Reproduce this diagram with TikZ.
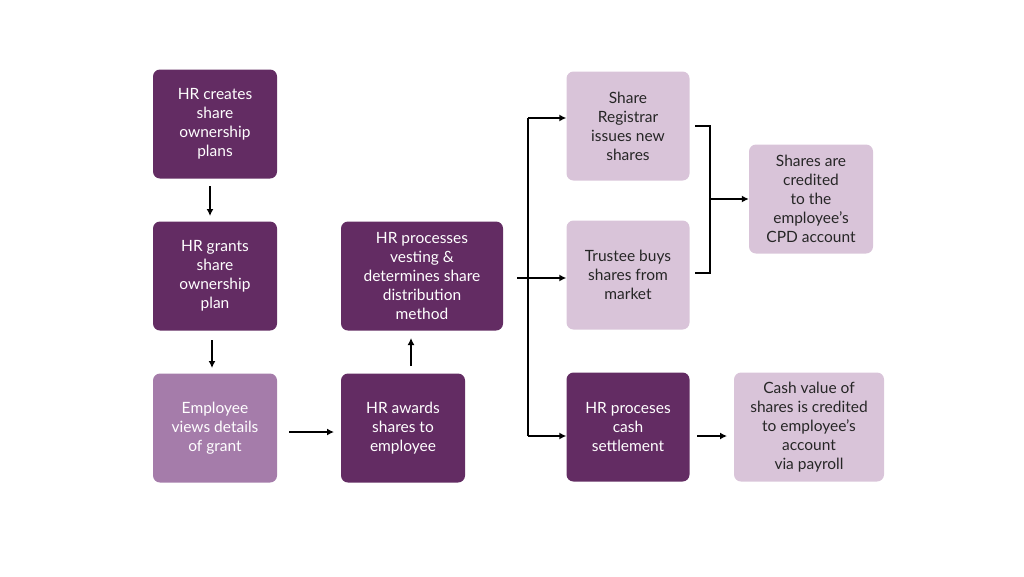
\documentclass[tikz,border=0pt]{standalone}
\usepackage{fontspec}
\setmainfont{Lato}
\usetikzlibrary{arrows.meta}
\definecolor{dk}{HTML}{632C63}
\definecolor{md}{HTML}{A57CAA}
\definecolor{pl}{HTML}{D9C4D9}
\begin{document}
\begin{tikzpicture}[x=1pt,y=-1pt,
  box/.style={rounded corners=7pt,minimum width=124pt,minimum height=109pt,align=center,font=\fontsize{15.5}{19}\selectfont,inner sep=2pt},
  dk/.style={box,fill=dk,text=white},
  md/.style={box,fill=md,text=white},
  pl/.style={box,fill=pl,text=black!85},
  ar/.style={line width=1.8pt,-{Latex[length=7pt,width=7pt]}},
  ln/.style={line width=1.8pt}]
\useasboundingbox (0,0) rectangle (1024,576);
\node[dk] (A) at (215,124) {HR creates\\share\\ownership\\plans};
\node[dk] (B) at (215,276) {HR grants\\share\\ownership\\plan};
\node[md] (C) at (215,428) {Employee\\views details\\of grant};
\node[dk] (D) at (403,428) {HR awards\\shares to\\employee};
\node[dk,minimum width=162pt] (E) at (422,276) {HR processes\\vesting \&\\determines share\\distribution\\method};
\node[pl,minimum width=123pt] (F) at (628,126) {Share\\Registrar\\issues new\\shares};
\node[pl,minimum width=123pt] (G) at (628,275) {Trustee buys\\shares from\\market};
\node[dk,minimum width=123pt] (H) at (628,427) {HR proceses\\cash\\settlement};
\node[pl] (I) at (811,199) {Shares are\\credited\\to the\\employee’s\\CPD account};
\node[pl,minimum width=150pt] (J) at (809,427) {Cash value of\\shares is credited\\to employee’s\\account\\via payroll};
\coordinate (a1) at (210,186); \coordinate (a2) at (210,216);
\draw[ar] (a1) -- (a2);
\coordinate (b1) at (212,340); \coordinate (b2) at (212,368);
\draw[ar] (b1) -- (b2);
\coordinate (c1) at (289,432); \coordinate (c2) at (334,432);
\draw[ar] (c1) -- (c2);
\coordinate (d1) at (411,366); \coordinate (d2) at (411,338);
\draw[ar] (d1) -- (d2);
\coordinate (e0) at (517,278); \coordinate (e1) at (528,278);
\coordinate (t) at (528,118); \coordinate (bt) at (528,436);
\draw[ln] (e0) -- (e1);
\draw[ln] (t) -- (bt);
\draw[ar] (t) -- (F.west|-t);
\draw[ar] (e1) -- (G.west|-e1);
\draw[ar] (bt) -- (H.west|-bt);
\coordinate (k1) at (695,126); \coordinate (k2) at (710,126);
\coordinate (k3) at (710,273); \coordinate (k4) at (695,273);
\coordinate (km) at (710,199);
\draw[ln] (k1) -- (k2) -- (k3) -- (k4);
\draw[ar] (km) -- (I.west|-km);
\coordinate (h1) at (697,436); \coordinate (h2) at (727,436);
\draw[ar] (h1) -- (h2);
\end{tikzpicture}
\end{document}
